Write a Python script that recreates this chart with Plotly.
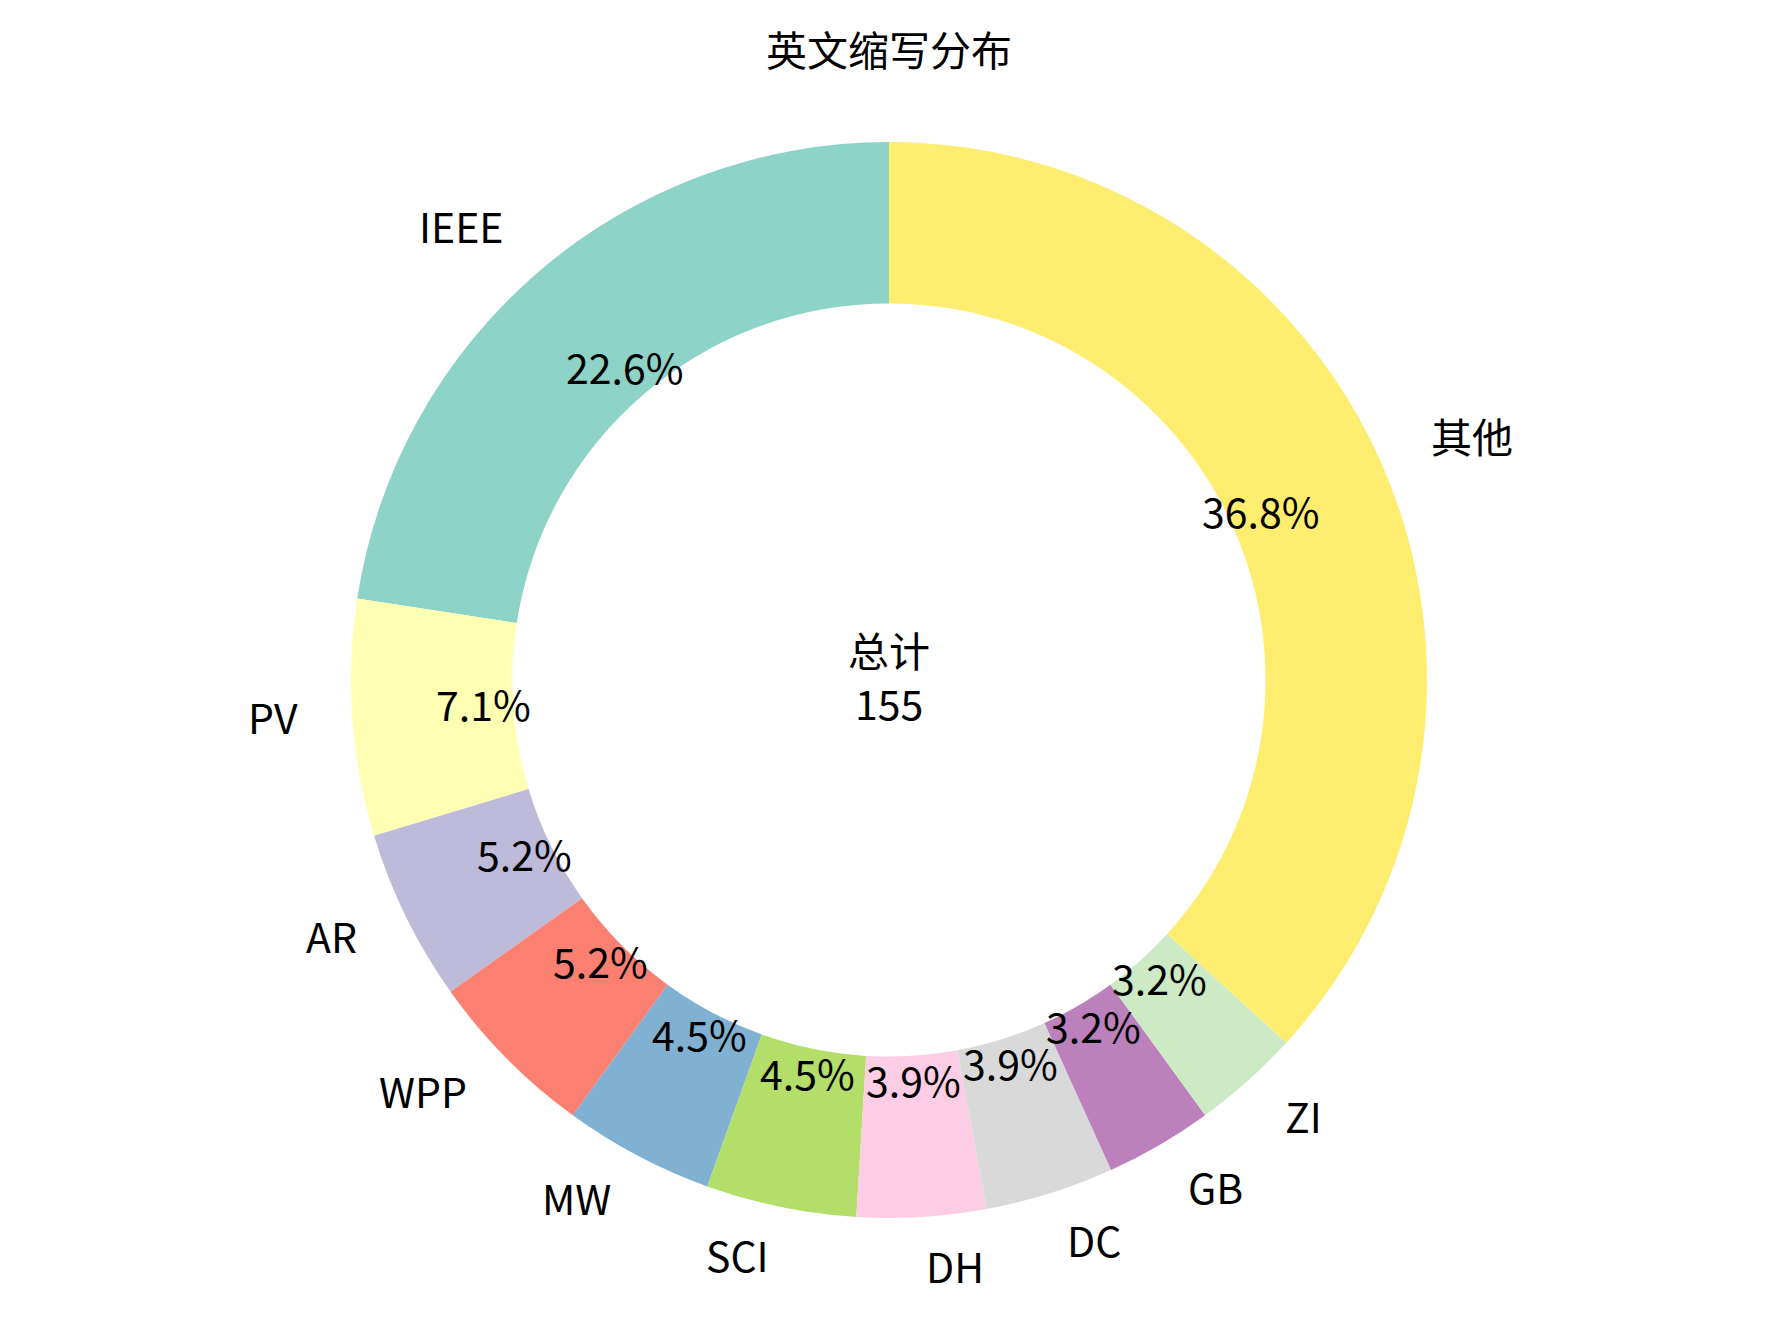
import math
import plotly.graph_objects as go

labels = ["IEEE", "PV", "AR", "WPP", "MW", "SCI", "DH", "DC", "GB", "ZI", "其他"]
values = [35, 11, 8, 8, 7, 7, 6, 6, 5, 5, 57]
colors = ["#8dd3c7", "#ffffb3", "#bebada", "#fb8072", "#80b1d3", "#b3de69",
          "#fccde5", "#d9d9d9", "#bc80bd", "#ccebc5", "#ffed6f"]
title_text = "英文缩写分布"
center_label = "总计"

W, H = 1779, 1323
cx, cy, R = 889, 680, 538
FONT = "Noto Sans CJK SC"
FS = 41
DY = -6  # font baseline correction (pixels)

total = sum(values)

fig = go.Figure(go.Pie(
    labels=labels, values=values, sort=False, direction="counterclockwise",
    rotation=-360.0 * values[0] / total, hole=0.70, textinfo="none",
    hoverinfo="label+percent",
    marker=dict(colors=colors, line=dict(width=0)),
    domain=dict(x=[(cx - R) / W, (cx + R) / W], y=[1 - (cy + R) / H, 1 - (cy - R) / H]),
    showlegend=False,
))


def txt(x, y, text, xanchor="center"):
    return dict(x=x / W, y=1 - (y + DY) / H, xref="paper", yref="paper", text=text,
                showarrow=False, xanchor=xanchor, yanchor="middle", borderpad=0,
                font=dict(family=FONT, size=FS, color="black"))


annotations = []
start = 90.0
for lab, v in zip(labels, values):
    span = 360.0 * v / total
    mid = math.radians(start + span / 2)
    start += span
    c, s = math.cos(mid), math.sin(mid)
    annotations.append(txt(cx + 1.1 * R * c, cy - 1.1 * R * s, lab,
                           "left" if c > 0 else "right"))
    annotations.append(txt(cx + 0.755 * R * c, cy - 0.755 * R * s,
                           f"{100 * v / total:.1f}%"))

annotations.append(txt(cx, cy - 25, center_label))
annotations.append(txt(cx, cy + 28, str(total)))
annotations.append(txt(cx, 48 - DY, title_text))

fig.update_layout(
    width=W, height=H, margin=dict(l=0, r=0, t=0, b=0),
    paper_bgcolor="white", plot_bgcolor="white",
    annotations=annotations,
)

fig.write_html("out.html")
